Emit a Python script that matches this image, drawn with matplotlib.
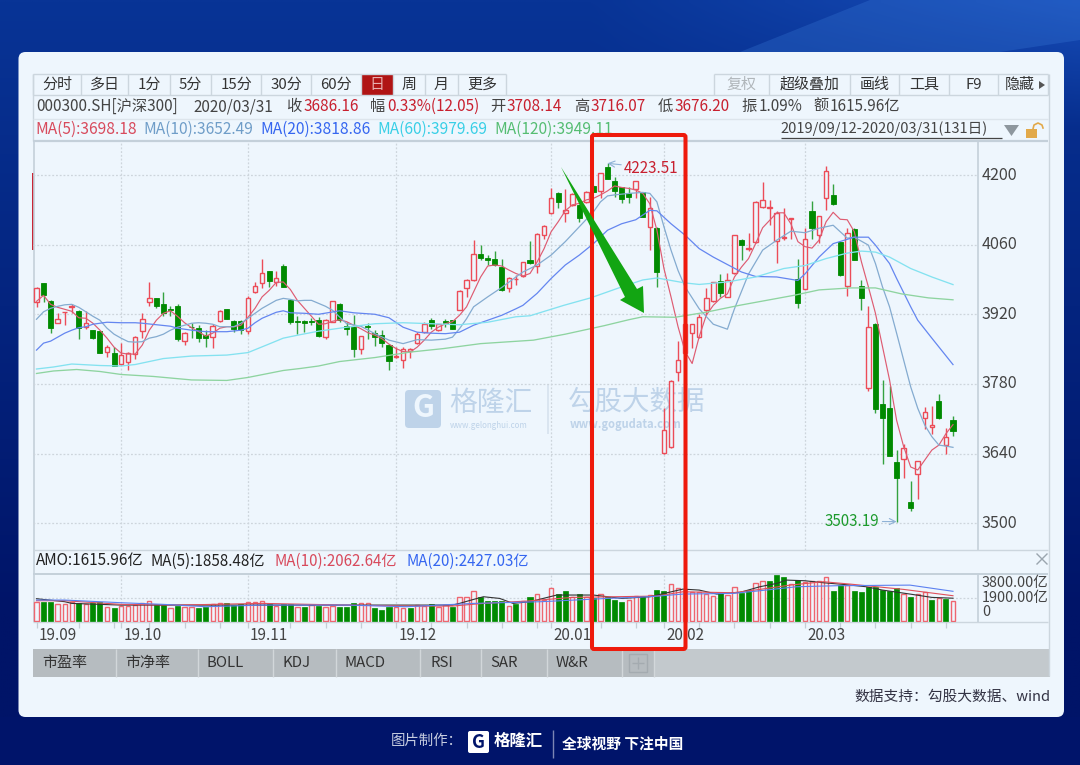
import numpy as np
import matplotlib
matplotlib.use('Agg')
import matplotlib.pyplot as plt
from matplotlib.patches import FancyBboxPatch, Rectangle, Polygon

plt.rcParams['font.family'] = ['Noto Sans CJK SC', 'DejaVu Sans']

# ---------- data ----------
opens = [3945,3982,3947,3903,3924,3934,3926,3895,3888,3886,
         3844,3842,3820,3825,3840,3887,3945,3953,3940,3930,
         3936,3866,3895,3892,3878,3874,3907,3930,3906,3907,
         3886,3964,3983,4007,3985,4017,3948,3906,3906,3906,
         3908,3874,3905,3940,3896,3894,3850,3896,3882,3878,
         3858,3834,3829,3846,3862,3884,3909,3888,3907,3908,
         3929,3972,3989,4041,4034,4032,4015,3973,3990,3997,
         4029,4017,4079,4123,4163,4123,4140,4140,4146,4178,
         4168,4217,4187,4175,4163,4171,4166,4096,4094,3641,
         3653,3803,3843,3882,3874,3928,3947,3987,3955,4002,
         4070,4051,4066,4135,4133,4068,4073,4111,3990,3971,
         4128,4079,4153,4160,4065,3977,4091,3977,3771,3900,
         3739,3731,3624,3630,3542,3598,3712,3693,3745,3658,
         3708.14]
highs = [3975,3983,3948,3922,3925,3940,3928,3927,3889,3887,
         3858,3855,3863,3845,3876,3923,3984,3953,3964,3936,
         3940,3885,3902,3898,3888,3900,3928,3931,3908,3908,
         3956,3985,4031,4007,4007,4022,3950,3916,3908,3913,
         3914,3910,3947,3943,3905,3918,3877,3903,3889,3888,
         3861,3854,3854,3852,3884,3904,3913,3901,3911,3909,
         3968,3990,4069,4059,4039,4048,4032,3994,3999,4026,
         4067,4084,4099,4173,4166,4172,4163,4142,4168,4179,
         4205,4223.51,4195,4176,4176,4188,4166,4155,4096,3731,
         3787,3866,3901,3900,3920,3972,3985,4000,4002,4079,
         4071,4084,4148,4186,4149,4127,4134,4113,4032,4093,
         4148,4118,4218,4182,4066,4093,4093,3989,3937,3902,
         3788,3776,3647,3660,3585,3626,3733,3735,3759,3691,
         3716.07]
lows = [3935,3945,3882,3903,3898,3922,3870,3890,3870,3842,
        3835,3816,3818,3808,3831,3872,3936,3932,3916,3916,
        3867,3858,3873,3865,3855,3852,3905,3910,3885,3881,
        3880,3962,3972,3975,3976,3975,3900,3880,3885,3898,
        3875,3870,3904,3905,3878,3834,3841,3871,3856,3854,
        3807,3833,3813,3833,3861,3883,3891,3886,3894,3890,
        3928,3955,3987,4029,4019,4017,3967,3965,3978,3995,
        4022,4003,4072,4121,4133,4106,4138,4105,4144,4165,
        4153,4191,4156,4144,4144,4153,4115,4049,3975,3639,
        3651,3785,3841,3853,3872,3918,3944,3954,3954,4001,
        4029,4047,4064,4133,4099,4024,4070,4071,3932,3970,
        4071,4063,4130,4140,3997,3957,4029,3929,3766,3722,
        3620,3635,3503.19,3591,3525,3548,3689,3680,3709,3640,
        3676.20]
closes = [3972,3958,3892,3910,3925,3936,3892,3902,3872,3843,
          3854,3816,3838,3843,3875,3911,3953,3936,3923,3928,
          3870,3882,3894,3872,3872,3896,3927,3911,3890,3888,
          3953,3977,4003,3986,3992,3975,3904,3905,3902,3905,
          3876,3908,3947,3909,3890,3851,3877,3894,3874,3862,
          3827,3836,3851,3851,3880,3901,3896,3900,3903,3891,
          3967,3989,4042,4034,4029,4019,3968,3992,3991,4025,
          4023,4082,4098,4153,4146,4130,4162,4114,4166,4166,
          4205,4192,4168,4151,4156,4187,4116,4133,4004,3687,
          3785,3829,3900,3900,3915,3952,3985,3962,3989,4079,
          4059,4053,4145,4149,4135,4124,4075,4113,3942,4071,
          4093,4118,4208,4141,3998,4083,4030,3952,3895,3729,
          3711,3636,3590,3652,3530,3625,3723,3698,3711,3674,
          3686.16]

ma5 = [3946,3958,3940,3934,3930,3926,3913,3912,3902,3888,
       3872,3854,3842,3840,3840,3858,3888,3908,3922,3927,
       3916,3903,3893,3885,3876,3882,3892,3895,3895,3898,
       3914,3932,3955,3968,3984,3985,3970,3948,3932,3916,
       3900,3901,3906,3909,3905,3898,3891,3883,3878,3871,
       3860,3851,3845,3844,3854,3868,3884,3894,3901,3905,
       3918,3935,3965,3995,4017,4019,4017,4009,4002,3997,
       4002,4025,4052,4086,4106,4128,4140,4143,4150,4153,
       4160,4168,4178,4175,4173,4170,4163,4142,4089,4012,
       3955,3895,3845,3821,3875,3918,3938,3952,3961,3995,
       4015,4032,4062,4094,4109,4124,4124,4102,4066,4056,
       4053,4069,4106,4125,4111,4110,4086,4026,3975,3922,
       3855,3788,3707,3654,3613,3607,3627,3647,3657,3680,
       3698.18]

ma10_idx = list(range(41)) + [41,42,44,46,48,50,52,54,56,58,59,60,61,62,64,66,68,69,71,73,75,77,79,
            80,81,82,84,86,87,88,89,90,91,92,94,96,97,98,99,101,103,105,107,109,111,113,114,115,116,
            118,119,120,121,122,123,124,125,126,127,128,129,130]
ma10_val = [3910,3925,3932,3936,3939,3940,3934,3925,3916,3908,
            3892,3880,3872,3865,3864,3865,3872,3875,3880,3888,
            3894,3898,3902,3903,3902,3900,3895,3895,3895,3902,
            3912,3922,3932,3940,3948,3952,3950,3947,3948,3948,3942,
            3936,3928,3901,3896,3881,3868,3861,3869,3868,3870,3874,3891,3911,3935,3955,3974,3995,4005,4019,4039,4066,4096,4126,
            4146,4158,4160,4163,4165,4163,4146,4096,4049,4008,3975,3931,3900,3895,3890,3931,4001,4049,4069,4087,4084,4093,4099,4086,4073,4075,
            4059,4022,3975,3935,3882,3828,3774,3731,3697,3674,3657,3655,3652.49]

ma20_idx = [0,1,2,3,4,5,6,7,8,9,10,12,14,15,17,19,20,22,24,25,27,29,30,31,32,33,34,35,36,38,40,
            43,45,48,50,52,54,56,58,60,62,64,66,68,69,71,73,75,77,79,81,83,85,87,88,90,92,94,96,98,
            100,102,105,108,109,111,113,116,118,119,121,122,124,125,127,130]
ma20_val = [3848,3862,3866,3874,3882,3888,3893,3895,3900,3902,3904,3903,3903,3902,3899,3896,3892,3888,3885,3885,3885,3888,3892,3903,3912,3918,3924,3927,3923,3922,3920,
            3927,3923,3920,3913,3894,3884,3882,3881,3884,3898,3908,3918,3931,3938,3962,3992,4019,4039,4062,4089,4102,4110,4129,4128,4102,4079,4052,4035,4020,
            4005,3996,3995,3988,4001,4035,4062,4075,4075,4059,4022,3992,3935,3908,3872,3818.86]

ma60_idx = [0,2.4,5,9,12,14,18,22,27,30,32.6,35,37.4,40,44,48,52,60,64,68,70,74.8,78.6,83,86,88,90,92,94,98,102,106,109,112,115,117,119,121,124,127,130]
ma60_val = [3810,3814,3820,3817,3816,3819,3831,3836,3838,3843,3858,3872,3879,3886,3894,3901,3903,3899,3904,3915,3917,3938,3953,3975,3989,3993,3988,3983,3980,3985,3995,4012,4018,4032,4043,4047,4045,4035,4012,3995,3979.69]

ma120_idx = [0,2.4,5.7,9,12,16.6,22,27,30,35,37.4,40,43,48,53,57.7,63,70.5,75,80.5,84,86,90.6,94.9,99.7,107.4,111,115.5,119,122.7,126.5,130]
ma120_val = [3801,3806,3809,3805,3799,3795,3788,3787,3793,3807,3811,3816,3825,3833,3844,3851,3861,3868,3880,3897,3909,3915,3914,3924,3938,3958,3969,3973,3973,3961,3953,3949.11]

volumes = [1570,1570,1570,1350,1375,1570,1430,1350,1430,1570,
           1155,1020,1240,1240,1290,1430,1650,1350,1290,1020,
           1240,1155,1155,1070,1100,1350,1485,1430,1290,1400,
           1540,1540,1650,1430,1210,1350,1350,1155,1155,1265,
           1210,1130,1210,1155,1155,1485,1430,1430,1070,880,
           1155,1155,1070,1070,1320,1240,1350,1155,1320,1155,
           1980,1980,2475,1925,1595,1620,1650,1240,1350,1620,
           1980,2170,1705,2720,2170,2475,1980,2170,1980,1840,
           2200,1925,1705,1570,1705,2035,2035,2120,2530,2475,
           3000,2670,2530,2390,2390,2200,2060,2255,2120,2750,
           2310,2530,3080,3270,3300,3740,3630,3025,3330,3160,
           3270,3270,3630,2475,2970,2940,2475,2340,2805,2750,
           2530,2475,2700,2170,1980,2200,2340,1705,1870,1790,1615.96]
vol_dir = ("RGGRRRGRGG" "RGRRRRRGGR" "GRRGGRRGGG" "RRRGRGGRGR" "GRRGGGRRGG"
           "GRRGRRGRRG" "RRRGGGGRGR" "GRRRGGRGRG" "RGGGRRGRGG" "RRRRRRRGRR"
           "GGRRGGGRGR" "RRRGGRGGGG" "GGGRGRRGRGR")

vma5_idx = [0,4,5,12,25,43,59,60,62,63.4,65.7,67.6,70,73.8,79,83,87,91.7,94,96.5,99.8,102.6,105,106.4,109,111.6,114.4,117.7,120,123.9,127,130]
vma5_val = [1815,1570,1430,1290,1290,1290,1290,1430,1760,1980,1840,1430,1570,2120,2120,1840,1980,2610,2530,2200,2340,2805,3080,3355,3300,3135,3000,2805,2530,2200,1925,1858.48]
vma10_idx = [0,4,12,20,32,44,52.5,59,63.4,69.5,76,88,91.7,98.8,102.6,106.9,111.6,115.4,123,130]
vma10_val = [1650,1650,1350,1290,1430,1290,1210,1210,1430,1620,1925,2035,2390,2310,2585,2940,3220,3025,2585,2062.64]
vma20_idx = [0,4,12,18,24,32,44,52.5,62,71.6,81,87,91.7,98.8,102.6,107.8,113.5,123.9,130]
vma20_val = [1705,1705,1485,1350,1155,1290,1290,1155,1430,1570,1840,1980,2200,2255,2475,2805,2890,2940,2427.03]

price_ticks = [4200, 4060, 3920, 3780, 3640, 3500]
month_idx = [12, 30, 51, 73, 89, 109]
month_labels = ['19.09', '19.10', '19.11', '19.12', '20.01', '20.02', '20.03']
month_label_idx = [0.3, 12.3, 30.2, 51.3, 73.3, 89.3, 109.3]
minor_idx = [0,6,11,12,16,21,26,30,36,41,46,51,56,61,66,71,73,80,85,89,94,99,104,109,114,119,124,129]

RED = '#EC4C58'
GREEN = '#008A00'
PANEL = '#EEF6FD'
TXT = '#3C3C3C'
C_MA5 = '#DE5C72'
C_MA10 = '#84ABD0'
C_MA20 = '#6486F0'
C_MA60 = '#84E2F0'
C_MA120 = '#8ED4A0'

# ---------- figure / pixel canvases ----------
W, H = 1080, 765
fig = plt.figure(figsize=(W / 100, H / 100), dpi=100)

def pixel_axes(z):
    a = fig.add_axes([0, 0, 1, 1], zorder=z)
    a.set_xlim(0, W); a.set_ylim(H, 0); a.axis('off')
    a.patch.set_alpha(0)
    return a

def data_axes(x0, y0, x1, y1, z=2):
    a = fig.add_axes([x0 / W, 1 - y1 / H, (x1 - x0) / W, (y1 - y0) / H], zorder=z)
    a.patch.set_alpha(0)
    a.tick_params(left=False, bottom=False, labelleft=False, labelbottom=False)
    for s in a.spines.values():
        s.set_visible(False)
    return a

ui = pixel_axes(0)
top = pixel_axes(5)

# background gradient
yy, xx = np.mgrid[0:1:160j, 0:1:160j]
c_top = np.array([8, 52, 150]) / 255
c_bot = np.array([0, 20, 104]) / 255
t = np.clip(yy * 1.25, 0, 1)[..., None]
bg = c_top * (1 - t) + c_bot * t
bg = bg + (np.clip(xx - 0.55, 0, 1) * np.clip(1 - yy * 6, 0, 1) * 0.22)[..., None] * np.array([0.6, 1, 1.4])
ui.imshow(np.clip(bg, 0, 1), extent=(0, W, H, 0), aspect='auto', zorder=0, interpolation='bilinear')
ui.set_xlim(0, W); ui.set_ylim(H, 0)
ui.add_patch(Polygon([(740, 52), (870, 0), (1080, 0), (1080, 40), (1000, 52)], fc='#3D7FDC', alpha=0.28, ec='none', zorder=1))
ui.add_patch(Rectangle((0, 717), W, 48, fc='#00146A', ec='none', zorder=1))
ui.add_patch(FancyBboxPatch((18.5, 52), 1045.5, 665, boxstyle='round,pad=0,rounding_size=7',
                            mutation_aspect=1, fc=PANEL, ec='none', zorder=2))

def T(x, y, s, c=TXT, size=10.8, ha='left', va='center', ax=ui, **kw):
    return ax.text(x, y, s, color=c, fontsize=size, ha=ha, va=va, zorder=6, **kw)

def HL(y, x0, x1, c='#CCD6DE', lw=1.0, ax=ui, **kw):
    ax.plot([x0, x1], [y, y], color=c, lw=lw, zorder=4, solid_capstyle='butt', **kw)

def VL(x, y0, y1, c='#CCD6DE', lw=1.0, ax=ui, **kw):
    ax.plot([x, x], [y0, y1], color=c, lw=lw, zorder=4, solid_capstyle='butt', **kw)

# toolbar
edges = [33, 81, 128, 170, 211, 261, 311, 361, 393, 425, 458, 506]
labels = ['分时', '多日', '1分', '5分', '15分', '30分', '60分', '日', '周', '月', '更多']
ui.add_patch(Rectangle((361, 74), 32, 21, fc='#B01414', ec='none', zorder=3))
for a, b, s in zip(edges[:-1], edges[1:], labels):
    T((a + b) / 2, 84.5, s, c='#E8B0B0' if s == '日' else '#333333', ha='center')
for e in edges:
    VL(e, 74, 95)
r_edges = [714, 768.5, 850, 899, 949, 997.6, 1048]
r_labels = ['复权', '超级叠加', '画线', '工具', 'F9', '隐藏']
for a, b, s in zip(r_edges[:-1], r_edges[1:], r_labels):
    T((a + b) / 2 - (3 if s == '隐藏' else 0), 84.5, s, c='#B0B6BA' if s == '复权' else '#333333', ha='center')
for e in r_edges:
    VL(e, 74, 95)
ui.add_patch(Polygon([(1039, 81), (1045, 85), (1039, 89)], fc='#555555', ec='none', zorder=6))
HL(74, 33, 506); HL(74, 714, 1048)
HL(95, 33, 1048)
VL(33, 74, 141); VL(1048.5, 74, 676)
HL(119, 33, 1048, c='#DDE5EC')
HL(141, 33, 1048, c='#C4D0DA', lw=1.6)

# info rows
R2 = 106.5
CR = '#C8202F'
for x, s, c in [(36, '000300.SH[沪深300]', '#444444'), (193, '2020/03/31', '#444444'), (286, '收', '#444444'),
                (304, '3686.16', CR), (370, '幅', '#444444'), (387, '0.33%(12.05)', CR), (490, '开', '#444444'),
                (507, '3708.14', CR), (574, '高', '#444444'), (591, '3716.07', CR), (658, '低', '#444444'),
                (675, '3676.20', CR), (741, '振', '#444444'), (759, '1.09%', '#444444'), (813, '额', '#444444'),
                (830, '1615.96亿', '#444444')]:
    T(x, R2, s, c=c, size=11)
R3 = 129
for x, s, c in [(35, 'MA(5):3698.18', '#D84A5C'), (143, 'MA(10):3652.49', '#6F9DC8'),
                (260, 'MA(20):3818.86', '#3566F0'), (377, 'MA(60):3979.69', '#38CFE6'),
                (494, 'MA(120):3949.11', '#55BD72')]:
    T(x, R3, s, c=c, size=11.2)
T(780, R3, '2019/09/12-2020/03/31(131日)', c='#444444', size=10.5)
HL(137.5, 781, 1002, c='#444444', lw=0.9)
ui.add_patch(Polygon([(1004, 125), (1019, 125), (1011.5, 136)], fc='#8E979E', ec='none', zorder=6))
ui.add_patch(Rectangle((1026, 129), 11, 9, fc='#E2A94A', ec='none', zorder=6))
ui.plot([1033, 1034, 1038, 1042, 1043], [129, 125, 123, 125, 128], color='#E2A94A', lw=1.2, zorder=6)

# price axis + left marker
VL(978, 141, 550, c='#C4D0DA', lw=1.2)
VL(32.5, 173, 250, c='#C8202F', lw=1.4)
VL(33.5, 141, 622, c='#C4D0DA', lw=1.2)
HL(550, 33, 1048, c='#CCD6DE')
HL(573.5, 33, 1048, c='#C4D0DA', lw=1.4)
HL(622, 33, 1048, c='#CCD6DE')
VL(978, 574, 622, c='#C4D0DA', lw=1.2)

# watermark
WM = '#BED3E9'
ui.add_patch(FancyBboxPatch((405, 390), 36, 38, boxstyle='round,pad=0,rounding_size=4', fc=WM, ec='none', zorder=3))
T(423, 408, 'G', c=PANEL, size=22, ha='center', weight='bold')
T(449, 403, '格隆汇', c=WM, size=20)
T(450, 425, 'www.gelonghui.com', c=WM, size=5.8)
VL(548, 384, 434, c='#D6E2EE', lw=1.2)
T(568, 402, '勾股大数据', c=WM, size=19.8)
T(570, 424, 'www.gogudata.com', c=WM, size=8, weight='bold')

# ---------- price panel ----------
n = len(closes)
X = np.arange(n)
PX_L, PX_R, PX_T, PX_B = 33, 978, 141, 550
STEP, X0 = 7.05, 36.5
SCALE = 348.2 / 700
ax = data_axes(PX_L, PX_T, PX_R, PX_B)
xlim = ((PX_L - X0) / STEP, (PX_R - X0) / STEP)
ax.set_xlim(*xlim)
ax.set_ylim(3500 - (PX_B - 523.2) / SCALE, 4200 + (175 - PX_T) / SCALE)

for p in price_ticks:
    ax.axhline(p, color='#CDD5DC', lw=0.9, ls=(0, (1.5, 1.5)), zorder=1)
    yp = 175 + (4200 - p) * SCALE
    T(999.5, yp, str(p), c='#444444', size=11.6, ha='center')
for m in month_idx:
    ax.axvline(m, color='#CDD5DC', lw=0.9, ls=(0, (1.5, 1.5)), zorder=1)

o, h, l, c_ = map(np.array, (opens, highs, lows, closes))
up = c_ >= o
body_top = np.maximum(o, c_)
body_bot = np.minimum(o, c_)
bw = 0.64
ax.vlines(X[up], body_top[up], h[up], color=RED, lw=1.0, zorder=3)
ax.vlines(X[up], l[up], body_bot[up], color=RED, lw=1.0, zorder=3)
ax.vlines(X[~up], l[~up], h[~up], color='#34A240', lw=1.0, zorder=3)
ax.bar(X[up], (body_top - body_bot)[up], bottom=body_bot[up], width=bw, facecolor=PANEL, edgecolor=RED, lw=1.0, zorder=3)
ax.bar(X[~up], (body_top - body_bot)[~up], bottom=body_bot[~up], width=bw + 0.08, facecolor=GREEN, edgecolor=GREEN, lw=0.6, zorder=3.1)

ax.plot(X, ma5, color=C_MA5, lw=0.85, zorder=4)
ax.plot(ma10_idx, ma10_val, color=C_MA10, lw=0.9, zorder=4)
ax.plot(ma20_idx, ma20_val, color=C_MA20, lw=0.9, zorder=4)
ax.plot(ma60_idx, ma60_val, color=C_MA60, lw=0.95, zorder=4)
ax.plot(ma120_idx, ma120_val, color=C_MA120, lw=0.95, zorder=4)

# extreme labels
imax = int(np.argmax(h)); imin = int(np.argmin(l))
ax.annotate(f'{h[imax]:.2f}', xy=(imax, h[imax]), xytext=(624, 168), textcoords=ui.transData,
            color=CR, fontsize=10.9, va='center', ha='left', zorder=7,
            arrowprops=dict(arrowstyle='->', color='#8FB2D6', lw=0.8, shrinkA=0, shrinkB=0))
ax.annotate(f'{l[imin]:.2f}', xy=(imin, l[imin]), xytext=(825, 521.5), textcoords=ui.transData,
            color='#1C9A2C', fontsize=10.9, va='center', ha='left', zorder=7,
            arrowprops=dict(arrowstyle='->', color='#8FB2D6', lw=0.8, shrinkA=0, shrinkB=0, relpos=(1, 0.5)))

# volume header
T(36, 561, 'AMO:1615.96亿', c='#222222', size=11)
T(151, 561, 'MA(5):1858.48亿', c='#222222', size=10.9)
T(274, 561, 'MA(10):2062.64亿', c='#D84A5C', size=10.9)
T(406, 561, 'MA(20):2427.03亿', c='#3566F0', size=10.9)
top.plot([1037, 1047], [554, 564], color='#9AA5AE', lw=1.0)
top.plot([1037, 1047], [564, 554], color='#9AA5AE', lw=1.0)

# ---------- volume panel ----------
VOL_SCALE = 23.0 / 1900
vx = data_axes(PX_L, 574, PX_R, 622)
vx.set_xlim(*xlim)
vx.set_ylim(-(622 - 620.7) / VOL_SCALE, (620.7 - 574) / VOL_SCALE)
vx.axhline(1900, color='#CDD5DC', lw=0.9, ls=(0, (1.5, 1.5)), zorder=1)
for m in month_idx:
    vx.axvline(m, color='#CDD5DC', lw=0.9, ls=(0, (1.5, 1.5)), zorder=1)
vol = np.array(volumes)
is_up = np.array([d == 'R' for d in vol_dir])
vx.bar(X[is_up], vol[is_up], width=0.62, facecolor=PANEL, edgecolor='#EE6670', lw=1.0, zorder=3)
vx.bar(X[~is_up], vol[~is_up], width=0.72, facecolor=GREEN, edgecolor=GREEN, lw=0.5, zorder=3)
vx.plot(vma5_idx, vma5_val, color='#333333', lw=0.8, zorder=4)
vx.plot(vma10_idx, vma10_val, color='#E0505C', lw=0.8, zorder=4)
vx.plot(vma20_idx, vma20_val, color='#5C80F0', lw=0.8, zorder=4)
T(982, 583, '3800.00亿', c='#444444', size=10.4)
T(982, 598, '1900.00亿', c='#444444', size=10.4)
T(982, 612, '0', c='#444444', size=10.4)

# month labels and tick marks under volume
for idx in minor_idx:
    px = X0 + STEP * idx
    VL(px, 622, 628, c='#C4CDD5', lw=0.9)
for idx, s in zip(month_label_idx, month_labels):
    T(X0 + STEP * idx + 0.5, 635, s, c='#444444', size=11)

# tabs
tab_edges = [33, 115.6, 198, 273, 336, 420, 480.5, 547, 622]
tab_labels = ['市盈率', '市净率', 'BOLL', 'KDJ', 'MACD', 'RSI', 'SAR', 'W&R']
tab_x = [42, 125, 207, 282, 345, 430, 490, 556]
ui.add_patch(Rectangle((33, 649), 1017, 27.5, fc='#C3C9CD', ec='none', zorder=3))
ui.add_patch(Rectangle((33, 649), 621, 27.5, fc='#B6BCC0', ec='none', zorder=3.1))
for e in tab_edges[1:] + [654]:
    VL(e, 649, 676.5, c='#D2D7DA', lw=1.0)
for x, s in zip(tab_x, tab_labels):
    T(x, 663, s, c='#333333', size=10.8)
ui.add_patch(Rectangle((629, 654), 18, 18, fc='none', ec='#A4ABB0', lw=1.0, zorder=6))
HL(663, 632, 644, c='#A4ABB0'); ui.lines[-1].set_zorder(6)
VL(638, 657, 669, c='#A4ABB0'); ui.lines[-1].set_zorder(6)

# footer
T(1051, 697, '数据支持：勾股大数据、wind', c='#333344', size=10.6, ha='right')
T(391, 741, '图片制作：', c='#C6CCE0', size=10.4)
ui.add_patch(FancyBboxPatch((468, 731), 21, 22, boxstyle='round,pad=0,rounding_size=2', fc='white', ec='none', zorder=6))
T(478.5, 742, 'G', c='#00146A', size=13, ha='center', weight='bold').set_zorder(7)
T(494, 741, '格隆汇', c='white', size=11.8, weight='bold')
VL(553, 730, 758, c='#7C86B4', lw=1.0)
T(562, 744, '全球视野 下注中国', c='white', size=10.6, weight='bold')

# highlight overlay
top.add_patch(FancyBboxPatch((592, 135), 93.5, 514, boxstyle='round,pad=0,rounding_size=2',
                             fc='none', ec='#EE1A0C', lw=2.9))
top.add_patch(Polygon([(561, 167), (637, 289), (643, 286), (644, 313), (620, 300), (625, 297)],
                      fc='#12A512', ec='none'))

fig.savefig('out.png', dpi=100, facecolor='white')
